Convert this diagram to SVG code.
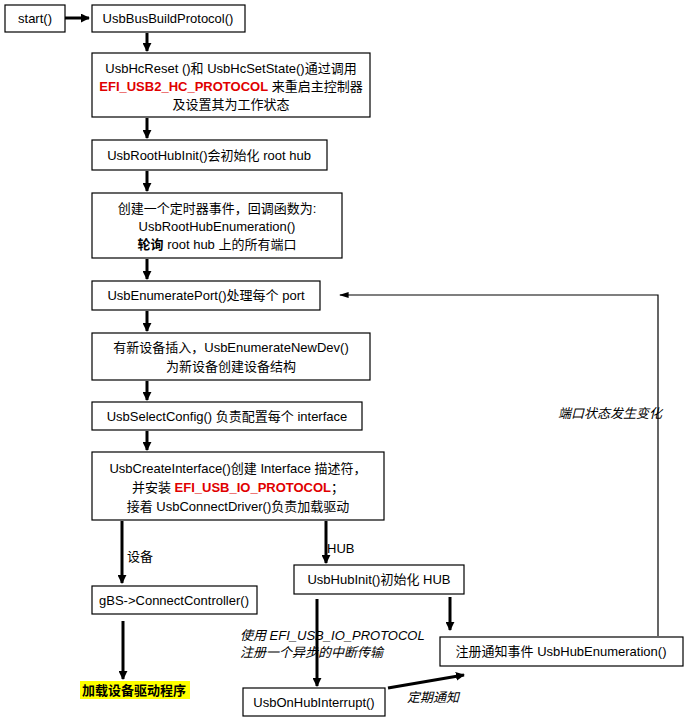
<svg xmlns="http://www.w3.org/2000/svg" width="689" height="722" viewBox="0 0 689 722">
<style>
rect.n{fill:#fff;stroke:#000;stroke-width:1.2}
text{font-family:"Liberation Sans","Noto Sans CJK SC",sans-serif;font-size:13px;fill:#000}
.c{text-anchor:middle}
.red{fill:#e00000;font-weight:bold}
.it{font-style:italic}
.e{stroke:#000;stroke-width:3;fill:none}
</style>
<defs><marker id="a" viewBox="0 0 10 10" refX="9" refY="5" markerWidth="3" markerHeight="3" orient="auto"><path d="M0,0L10,5L0,10z"/></marker>
<marker id="b" viewBox="0 0 10 10" refX="9" refY="5" markerWidth="8" markerHeight="8" orient="auto"><path d="M0,2L10,5L0,8z"/></marker></defs>
<rect width="689" height="722" fill="#fff"/>
<g id="connectors">
<path class="e" d="M65,18H89" marker-end="url(#a)"/>
<path class="e" d="M147,33V51" marker-end="url(#a)"/>
<path class="e" d="M147,118V138" marker-end="url(#a)"/>
<path class="e" d="M147,171V191" marker-end="url(#a)"/>
<path class="e" d="M147,259V279" marker-end="url(#a)"/>
<path class="e" d="M147,311V331" marker-end="url(#a)"/>
<path class="e" d="M147,381V400" marker-end="url(#a)"/>
<path class="e" d="M147,431V450" marker-end="url(#a)"/>
<path class="e" d="M122,521V583" marker-end="url(#a)"/>
<path class="e" d="M123,621V679" marker-end="url(#a)"/>
<path class="e" d="M326,521V563" marker-end="url(#a)"/>
<path class="e" d="M317,599V686" marker-end="url(#a)"/>
<path class="e" d="M450,597V630" marker-end="url(#a)"/>
<path class="e" d="M388,688L464,675" marker-end="url(#a)"/>
<path d="M658,636V295H340" stroke="#000" stroke-width="1.2" fill="none" marker-end="url(#b)"/>
<text x="127" y="561">设备</text>
<text x="327" y="553">HUB</text>
<text x="240" y="640" class="it">使用 EFI_USB_IO_PROTOCOL</text>
<text x="240" y="657" class="it">注册一个异步的中断传输</text>
<text x="407" y="702" class="it">定期通知</text>
<text x="558" y="418" class="it">端口状态发生变化</text>
</g>
<g id="start"><rect class="n" x="5" y="5" width="60" height="27"/><text x="35" y="23" class="c">start()</text></g>
<g id="build"><rect class="n" x="92" y="5" width="153" height="27"/><text x="168" y="23" class="c">UsbBusBuildProtocol()</text></g>
<g id="reset"><rect class="n" x="92" y="53" width="278" height="64"/>
<text x="231" y="73" class="c">UsbHcReset ()和 UsbHcSetState()通过调用</text>
<text x="231" y="91" class="c"><tspan class="red">EFI_USB2_HC_PROTOCOL</tspan> 来重启主控制器</text>
<text x="231" y="109" class="c">及设置其为工作状态</text></g>
<g id="roothub"><rect class="n" x="92" y="140" width="235" height="30"/><text x="209" y="160" class="c">UsbRootHubInit()会初始化 root hub</text></g>
<g id="timer"><rect class="n" x="92" y="193" width="250" height="65"/>
<text x="217" y="213" class="c">创建一个定时器事件，回调函数为:</text>
<text x="217" y="231" class="c">UsbRootHubEnumeration()</text>
<text x="217" y="249" class="c"><tspan font-weight="bold">轮询</tspan> root hub 上的所有端口</text></g>
<g id="enumport"><rect class="n" x="92" y="281" width="228" height="29"/><text x="206" y="300" class="c">UsbEnumeratePort()处理每个 port</text></g>
<g id="newdev"><rect class="n" x="92" y="333" width="278" height="47"/>
<text x="231" y="352" class="c">有新设备插入，UsbEnumerateNewDev()</text>
<text x="231" y="371" class="c">为新设备创建设备结构</text></g>
<g id="selcfg"><rect class="n" x="92" y="402" width="270" height="28"/><text x="227" y="421" class="c">UsbSelectConfig() 负责配置每个 interface</text></g>
<g id="createif"><rect class="n" x="92" y="452" width="292" height="68"/>
<text x="238" y="473" class="c">UsbCreateInterface()创建 Interface 描述符，</text>
<text x="238" y="492" class="c">并安装 <tspan class="red">EFI_USB_IO_PROTOCOL</tspan>；</text>
<text x="238" y="511" class="c">接着 UsbConnectDriver()负责加载驱动</text></g>
<g id="gbs"><rect class="n" x="92" y="586" width="165" height="28"/><text x="174" y="605" class="c">gBS-&gt;ConnectController()</text></g>
<g id="load"><rect x="80" y="681" width="110" height="18" fill="#ffff00"/><text x="82" y="695" font-weight="bold">加载设备驱动程序</text></g>
<g id="hubinit"><rect class="n" x="294" y="565" width="170" height="29"/><text x="379" y="584" class="c">UsbHubInit()初始化 HUB</text></g>
<g id="notify"><rect class="n" x="440" y="637" width="243" height="29"/><text x="561" y="656" class="c">注册通知事件 UsbHubEnumeration()</text></g>
<g id="interrupt"><rect class="n" x="243" y="688" width="142" height="28"/><text x="314" y="707" class="c">UsbOnHubInterrupt()</text></g>
</svg>
